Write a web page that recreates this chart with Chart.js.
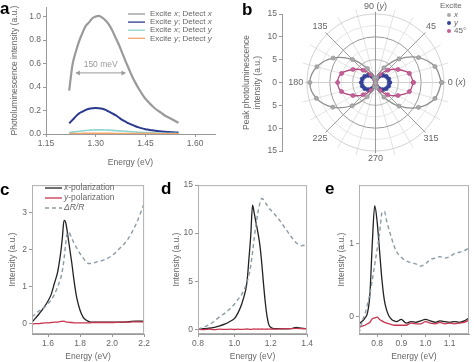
<!DOCTYPE html>
<html>
<head>
<meta charset="utf-8">
<script src="https://cdn.jsdelivr.net/npm/chart.js@4.4.0/dist/chart.umd.min.js"></script>
<style>
  body { margin: 0; background: #fff; width: 474px; height: 362px; position: relative; overflow: hidden; font-family: "Liberation Sans", Arial, sans-serif; }
  .panel { position: absolute; }
  .tag { position: absolute; font-weight: bold; font-size: 17px; line-height: 1; color: #000; }
</style>
</head>
<body>
<div class="panel" style="left:0;top:0;width:222px;height:168px"><canvas id="chart-a"></canvas></div>
<div class="panel" style="left:240px;top:0;width:234px;height:165px"><canvas id="chart-b"></canvas></div>
<div class="panel" style="left:0;top:178px;width:152px;height:184px"><canvas id="chart-c"></canvas></div>
<div class="panel" style="left:160px;top:178px;width:155px;height:184px"><canvas id="chart-d"></canvas></div>
<div class="panel" style="left:318px;top:178px;width:156px;height:184px"><canvas id="chart-e"></canvas></div>
<div class="tag" style="left:0;top:0">a</div>
<div class="tag" style="left:242px;top:1px">b</div>
<div class="tag" style="left:0;top:181px">c</div>
<div class="tag" style="left:161px;top:180px">d</div>
<div class="tag" style="left:325px;top:180px">e</div>
<script>
// ---- panel a: PL spectra ----
const aEnergy = [1.22, 1.23, 1.24, 1.25, 1.26, 1.27, 1.28, 1.29, 1.30, 1.31, 1.32, 1.33, 1.34, 1.35, 1.36, 1.37, 1.38,
  1.39, 1.40, 1.41, 1.42, 1.43, 1.44, 1.45, 1.46, 1.47, 1.48, 1.49, 1.50, 1.51, 1.52, 1.53, 1.54, 1.55];
const aExXDetX = [0.37, 0.59, 0.70, 0.79, 0.86, 0.92, 0.95, 0.985, 1.00, 1.005, 0.99, 0.965, 0.93, 0.88, 0.82, 0.76, 0.69,
  0.62, 0.555, 0.49, 0.435, 0.385, 0.34, 0.30, 0.27, 0.24, 0.215, 0.195, 0.175, 0.155, 0.14, 0.125, 0.11, 0.095];
const aExYDetX = [0.09, 0.12, 0.15, 0.175, 0.19, 0.205, 0.215, 0.22, 0.222, 0.22, 0.215, 0.205, 0.19, 0.175, 0.16, 0.14, 0.12,
  0.105, 0.09, 0.077, 0.066, 0.056, 0.048, 0.041, 0.036, 0.031, 0.027, 0.024, 0.021, 0.019, 0.017, 0.015, 0.013, 0.012];
const aExXDetY = [0.012, 0.016, 0.02, 0.024, 0.027, 0.03, 0.032, 0.034, 0.035, 0.035, 0.035, 0.034, 0.033, 0.031, 0.029, 0.027, 0.025,
  0.023, 0.021, 0.019, 0.017, 0.015, 0.014, 0.012, 0.011, 0.01, 0.009, 0.008, 0.007, 0.006, 0.006, 0.005, 0.005, 0.004];
const aExYDetY = [0.003, 0.004, 0.004, 0.004, 0.005, 0.005, 0.005, 0.005, 0.005, 0.005, 0.005, 0.005, 0.005, 0.005, 0.004, 0.004, 0.004,
  0.004, 0.004, 0.004, 0.003, 0.003, 0.003, 0.003, 0.003, 0.003, 0.003, 0.002, 0.002, 0.002, 0.002, 0.002, 0.002, 0.002];
const aLegend = ['Excite *x*; Detect *x*', 'Excite *y*; Detect *x*', 'Excite *x*; Detect *y*', 'Excite *y*; Detect *y*'];
const aTicksX = [1.15, 1.30, 1.45, 1.60];
const aTicksY = [0, 0.2, 0.4, 0.6, 0.8, 1.0];

// ---- panel b: polar plot of peak PL ----
const bAngle = [0, 15, 30, 45, 60, 75, 90, 105, 120, 135, 150, 165, 180, 195, 210, 225, 240, 255, 270, 285, 300, 315, 330, 345, 360];
const bExciteX = [14.5, 13.5, 10.9, 7.3, 3.7, 1.1, 0.2, 1.0, 3.5, 7.1, 10.7, 13.3, 14.4, 13.4, 10.8, 7.2, 3.6, 1.0, 0.2, 1.1, 3.7, 7.3, 10.9, 13.5, 14.5];
const bExciteY = [3.1, 3.0, 2.7, 2.2, 1.55, 0.8, 0.1, 0.8, 1.55, 2.2, 2.7, 3.0, 3.1, 3.0, 2.7, 2.2, 1.55, 0.8, 0.1, 0.8, 1.55, 2.2, 2.7, 3.0, 3.1];
const bExcite45 = [8.3, 7.7, 5.7, 3.8, 2.0, 0.7, 0.2, 0.7, 2.0, 3.8, 5.7, 7.7, 8.3, 7.7, 5.7, 3.8, 2.0, 0.7, 0.2, 0.7, 2.0, 3.8, 5.7, 7.7, 8.3];
const bLegend = ['*x*', '*y*', '45°'];
const bTicksY = [-15, -10, -5, 0, 5, 10, 15];
const bRings = [2.5, 5, 7.5, 10, 12.5, 15];
const bAngleLabels = ['0 (*x*)', '45', '90 (*y*)', '135', '180', '225', '270', '315'];

// ---- panel c ----
const cEnergy = [1.50, 1.52, 1.54, 1.56, 1.58, 1.60, 1.62, 1.64, 1.66, 1.67, 1.68, 1.69, 1.70, 1.71, 1.72, 1.73, 1.74,
  1.75, 1.76, 1.77, 1.78, 1.80, 1.82, 1.84, 1.86, 1.88, 1.90, 1.95, 2.00, 2.05, 2.10, 2.15, 2.20];
const cXPol = [0.05, 0.15, 0.25, 0.36, 0.48, 0.62, 0.8, 1.1, 1.4, 1.65, 1.95, 2.35, 2.8, 2.75, 2.5, 2.2, 1.9,
  1.6, 1.25, 0.95, 0.7, 0.37, 0.18, 0.1, 0.06, 0.05, 0.05, 0.05, 0.05, 0.05, 0.06, 0.08, 0.07];
const cYPol = [0.0, 0.01, 0.01, 0.02, 0.03, 0.03, 0.04, 0.05, 0.05, 0.06, 0.07, 0.07, 0.08, 0.06, 0.05, 0.05, 0.04,
  0.04, 0.03, 0.03, 0.03, 0.03, 0.03, 0.03, 0.03, 0.04, 0.04, 0.04, 0.04, 0.05, 0.05, 0.06, 0.06];
const cDeltaR = [0.19, 0.27, 0.34, 0.4, 0.46, 0.55, 0.65, 0.8, 1.0, 1.12, 1.25, 1.45, 1.75, 2.15, 2.45, 2.48, 2.4,
  2.3, 2.2, 2.12, 2.05, 1.9, 1.78, 1.67, 1.63, 1.64, 1.67, 1.73, 1.85, 2.05, 2.3, 2.7, 3.25];
const cLegend = ['*x*-polarization', '*y*-polarization', '*ΔR/R*'];
const cTicksX = [1.6, 1.8, 2.0, 2.2];
const cTicksY = [0, 1, 2, 3];

// ---- panel d ----
const dEnergy = [0.80, 0.83, 0.86, 0.89, 0.92, 0.95, 0.98, 1.00, 1.02, 1.04, 1.06, 1.07, 1.08, 1.09, 1.10, 1.11, 1.12,
  1.13, 1.14, 1.15, 1.16, 1.17, 1.18, 1.19, 1.20, 1.22, 1.25, 1.28, 1.31, 1.34, 1.37, 1.40];
const dXPol = [0.0, 0.05, 0.1, 0.2, 0.35, 0.55, 0.85, 1.1, 1.7, 2.6, 3.9, 5.0, 7.3, 9.7, 12.9, 12.0, 11.0,
  10.0, 8.8, 7.0, 4.8, 2.8, 1.3, 0.45, 0.2, 0.05, 0.05, 0.03, 0.05, 0.2, 0.1, 0.05];
const dYPol = [0.0, -0.05, 0.0, -0.05, 0.0, -0.02, 0.0, -0.03, 0.0, -0.02, 0.0, 0.02, 0.0, -0.02, 0.0, 0.02, 0.0,
  0.02, 0.0, 0.02, 0.0, 0.0, 0.02, 0.0, 0.02, 0.0, 0.03, 0.05, 0.05, 0.08, 0.05, 0.05];
const dDeltaR = [0.0, 0.2, 0.45, 0.85, 1.3, 1.7, 2.2, 2.6, 3.1, 3.6, 4.4, 4.9, 5.6, 6.6, 8.0, 9.6, 11.0,
  12.2, 13.1, 13.6, 13.5, 13.2, 12.9, 12.6, 12.4, 12.0, 11.3, 10.5, 9.7, 9.0, 8.7, 8.8];
const dTicksX = [0.8, 1.0, 1.2, 1.4];
const dTicksY = [0, 5, 10, 15];

// ---- panel e ----
const eEnergy = [0.725, 0.74, 0.75, 0.76, 0.77, 0.78, 0.79, 0.80, 0.81, 0.82, 0.83, 0.84, 0.85, 0.86, 0.87, 0.88,
  0.90, 0.92, 0.94, 0.96, 0.98, 1.00, 1.02, 1.04, 1.06, 1.08, 1.10, 1.12, 1.14, 1.16, 1.18];
const eXPol = [-0.1, -0.06, -0.02, 0.05, 0.3, 1.0, 1.52, 1.3, 0.9, 0.5, 0.22, 0.08, 0.0, -0.04, -0.06, -0.07,
  -0.04, -0.09, -0.07, -0.08, -0.06, -0.04, -0.06, -0.08, -0.06, -0.07, -0.08, -0.07, -0.08, -0.06, -0.02];
const eYPol = [-0.15, -0.13, -0.12, -0.1, -0.08, -0.03, -0.02, -0.01, -0.04, -0.06, -0.08, -0.09, -0.1, -0.11, -0.12, -0.12,
  -0.12, -0.12, -0.09, -0.1, -0.1, -0.07, -0.09, -0.1, -0.08, -0.1, -0.09, -0.1, -0.09, -0.08, -0.05];
const eDeltaR = [-0.23, -0.05, 0.04, 0.17, 0.31, 0.5, 0.71, 0.92, 1.14, 1.42, 1.44, 1.3, 1.18, 1.07, 0.97, 0.89,
  0.81, 0.76, 0.74, 0.72, 0.69, 0.72, 0.78, 0.8, 0.82, 0.8, 0.82, 0.86, 0.88, 0.9, 0.94];
const eTicksX = [0.8, 0.9, 1.0, 1.1];
const eTicksY = [0, 1];

const FONT = "'Liberation Sans', Arial, sans-serif";
const TXT = '#666';
Chart.defaults.font.family = FONT;
Chart.defaults.font.size = 8.5;
Chart.defaults.color = TXT;
Chart.defaults.animation = false;
Chart.defaults.plugins.legend.display = false;
Chart.defaults.plugins.tooltip.enabled = false;

const pts = (xs, ys) => xs.map((x, i) => ({ x, y: ys[i] }));

function curve(xs, ys, color, width, dash) {
  return {
    data: pts(xs, ys), showLine: true, borderColor: color, borderWidth: width,
    borderDash: dash || [], pointRadius: 0, cubicInterpolationMode: 'monotone', fill: false
  };
}

// text with *italic* parts
function richText(ctx, x, y, text, size, color, align) {
  const parts = text.split('*');
  const fontOf = i => (i % 2 ? 'italic ' : '') + size + 'px ' + FONT;
  let w = 0;
  parts.forEach((p, i) => { ctx.font = fontOf(i); w += ctx.measureText(p).width; });
  if (align === 'center') x -= w / 2;
  if (align === 'right') x -= w;
  ctx.fillStyle = color;
  ctx.textBaseline = 'middle';
  ctx.textAlign = 'left';
  parts.forEach((p, i) => {
    ctx.font = fontOf(i);
    ctx.fillText(p, x, y);
    x += ctx.measureText(p).width;
  });
}

function legendLine(ctx, x0, x1, y, color, dash) {
  ctx.save();
  ctx.strokeStyle = color;
  ctx.lineWidth = 1.3;
  ctx.setLineDash(dash || []);
  ctx.beginPath(); ctx.moveTo(x0, y); ctx.lineTo(x1, y); ctx.stroke();
  ctx.restore();
}

function axis(min, max, ticks, size, title, titlePad, fmt) {
  return {
    type: 'linear', min, max,
    afterBuildTicks: s => { s.ticks = ticks.map(v => ({ value: v })); },
    afterFit: s => { if (s.isHorizontal()) s.height = size; else s.width = size; },
    grid: { display: true, drawOnChartArea: false, drawTicks: true, tickLength: 3, color: '#999' },
    border: { display: true, color: '#999' },
    ticks: { padding: 2, color: TXT, callback: fmt || (v => String(v)) },
    title: { display: !!title, text: title, color: TXT, font: { size: 8.5 }, padding: titlePad }
  };
}

const frame = {
  id: 'frame',
  afterDatasetsDraw(chart) {
    const { ctx, chartArea: a } = chart;
    ctx.save();
    ctx.strokeStyle = '#b0b0b0';
    ctx.lineWidth = 1;
    ctx.strokeRect(a.left + 0.5, a.top + 0.5, a.right - a.left - 1, a.bottom - a.top - 1);
    ctx.restore();
  }
};

// ---------- a ----------
const aColors = ['#9a9a9a', '#2b3a8e', '#8fd5cf', '#f3a56e'];
new Chart(document.getElementById('chart-a'), {
  type: 'scatter',
  data: {
    datasets: [
      curve(aEnergy, aExYDetY, aColors[3], 1.6),
      curve(aEnergy, aExXDetY, aColors[2], 1.6),
      curve(aEnergy, aExYDetX, aColors[1], 2),
      curve(aEnergy, aExXDetX, aColors[0], 2.2)
    ]
  },
  options: {
    responsive: true, maintainAspectRatio: false,
    layout: { padding: { top: 5, right: 7, left: 0, bottom: 0 } },
    scales: {
      x: axis(1.15, 1.66, aTicksX, 34, 'Energy (eV)', { top: 4, bottom: 0 }, v => v.toFixed(2)),
      y: axis(0, 1.08, aTicksY, 46, 'Photoluminescence intensity (a.u.)', { top: 10, bottom: 0 }, v => v.toFixed(1))
    }
  },
  plugins: [{
    id: 'aDecor',
    afterDraw(chart) {
      const ctx = chart.ctx;
      aLegend.forEach((t, i) => {
        const y = 14 + i * 8.1;
        legendLine(ctx, 128, 145, y, aColors[i]);
        richText(ctx, 150, y, t, 8, TXT);
      });
      // 150 meV width marker
      const x = chart.scales.x, y = chart.scales.y;
      const y0 = y.getPixelForValue(0.52);
      ctx.save();
      ctx.strokeStyle = '#999'; ctx.fillStyle = '#999'; ctx.lineWidth = 1;
      const x0 = x.getPixelForValue(1.24), x1 = x.getPixelForValue(1.39);
      ctx.beginPath(); ctx.moveTo(x0, y0); ctx.lineTo(x1, y0); ctx.stroke();
      [[x0, 1], [x1, -1]].forEach(([px, d]) => {
        ctx.beginPath(); ctx.moveTo(px, y0); ctx.lineTo(px + 4 * d, y0 - 2.5); ctx.lineTo(px + 4 * d, y0 + 2.5); ctx.closePath(); ctx.fill();
      });
      ctx.restore();
      richText(ctx, (x0 + x1) / 2, y0 - 8, '150 meV', 8.5, '#999', 'center');
    }
  }]
});

// ---------- b ----------
const polar = (angles, radii) => angles.map((a, i) => ({
  x: radii[i] * Math.cos(a * Math.PI / 180),
  y: radii[i] * Math.sin(a * Math.PI / 180)
}));
const bColors = ['#8e8e8e', '#2b3a8e', '#b3487f'];
const bPointColors = ['#a9a9a9', '#34449a', '#c4609a'];
function polarSet(radii, i) {
  return {
    data: polar(bAngle, radii), showLine: true, tension: 0.35,
    borderColor: bColors[i], borderWidth: 1.3,
    pointRadius: 2.1, pointBackgroundColor: bPointColors[i], pointBorderColor: bColors[i], pointBorderWidth: 0.6
  };
}
new Chart(document.getElementById('chart-b'), {
  type: 'scatter',
  data: { datasets: [polarSet(bExciteX, 0), polarSet(bExcite45, 2), polarSet(bExciteY, 1)] },
  options: {
    responsive: true, maintainAspectRatio: false,
    layout: { padding: { top: 14, right: 4, left: 0, bottom: 14 } },
    scales: {
      x: { type: 'linear', min: -20.5, max: 20.6, display: false },
      y: axis(-15, 15, bTicksY, 42, ['Peak photoluminescence', 'intensity (a.u.)'], { top: 2, bottom: 0 }, v => String(Math.abs(v)))
    }
  },
  plugins: [{
    id: 'polarGrid',
    beforeDatasetsDraw(chart) {
      const { ctx, scales: { x, y } } = chart;
      const cx = x.getPixelForValue(0), cy = y.getPixelForValue(0);
      const k = cy - y.getPixelForValue(1);
      ctx.save();
      ctx.lineWidth = 1;
      for (let a = 0; a < 360; a += 15) {
        if (a % 45 === 0) continue;
        const c = Math.cos(a * Math.PI / 180), s = Math.sin(a * Math.PI / 180);
        ctx.strokeStyle = '#e2e2e2';
        ctx.beginPath(); ctx.moveTo(cx + 2.5 * k * c, cy - 2.5 * k * s); ctx.lineTo(cx + 16.5 * k * c, cy - 16.5 * k * s); ctx.stroke();
      }
      bRings.forEach(r => {
        ctx.strokeStyle = r === 10 ? '#9a9a9a' : (r === 5 ? '#b8b8b8' : (r === 15 ? '#d2d2d2' : '#e6e6e6'));
        ctx.beginPath(); ctx.arc(cx, cy, r * k, 0, Math.PI * 2); ctx.stroke();
      });
      for (let a = 0; a < 360; a += 45) {
        const c = Math.cos(a * Math.PI / 180), s = Math.sin(a * Math.PI / 180);
        ctx.strokeStyle = a % 180 === 0 ? '#cfcfcf' : '#9a9a9a';
        ctx.beginPath(); ctx.moveTo(cx, cy); ctx.lineTo(cx + 15.5 * k * c, cy - 15.5 * k * s); ctx.stroke();
      }
      ctx.restore();
    },
    afterDraw(chart) {
      const { ctx, scales: { x, y } } = chart;
      const cx = x.getPixelForValue(0), cy = y.getPixelForValue(0);
      const k = cy - y.getPixelForValue(1);
      bAngleLabels.forEach((t, i) => {
        const a = i * 45 * Math.PI / 180;
        if (i === 0) richText(ctx, cx + 15.8 * k, cy, t, 9, TXT, 'left');
        else if (i === 4) richText(ctx, cx - 15.8 * k, cy, t, 9, TXT, 'right');
        else {
          const r = i % 2 ? 17.2 : 16.7;
          richText(ctx, cx + r * k * Math.cos(a), cy - r * k * Math.sin(a), t, 9, TXT, 'center');
        }
      });
      richText(ctx, 200, 6, 'Excite', 8, TXT);
      bLegend.forEach((t, i) => {
        const yy = 15 + i * 8;
        ctx.beginPath(); ctx.arc(209, yy, 2, 0, Math.PI * 2);
        ctx.fillStyle = bPointColors[i]; ctx.fill();
        richText(ctx, 214, yy, t, 8, TXT);
      });
    }
  }]
});

// ---------- c, d, e ----------
const black = '#222', red = '#c7354f', dashCol = '#8a9ba6';
function spectrum(id, xs, xPol, yPol, dR, xr, yr, tx, ty, box, titlePad, legend) {
  new Chart(document.getElementById(id), {
    type: 'scatter',
    data: {
      datasets: [
        curve(xs, dR, dashCol, 1.4, [4, 3]),
        curve(xs, yPol, red, 1.3),
        curve(xs, xPol, black, 1.3)
      ]
    },
    options: {
      responsive: true, maintainAspectRatio: false,
      layout: { padding: { top: box.top, right: box.right, left: 0, bottom: 0 } },
      scales: {
        x: axis(xr[0], xr[1], tx, 28, 'Energy (eV)', { top: 3, bottom: 0 }, v => v.toFixed(1)),
        y: axis(yr[0], yr[1], ty, box.left, 'Intensity (a.u.)', { top: titlePad, bottom: 0 })
      }
    },
    plugins: [frame, {
      id: 'legend-' + id,
      afterDraw(chart) {
        if (!legend) return;
        const ctx = chart.ctx;
        const cols = [black, red, dashCol];
        legend.forEach((t, i) => {
          const yy = 10 + i * 10;
          legendLine(ctx, 45, 62, yy, cols[i], i === 2 ? [4, 3] : []);
          richText(ctx, 64, yy, t, 8.5, TXT);
        });
      }
    }]
  });
}
spectrum('chart-c', cEnergy, cXPol, cYPol, cDeltaR, [1.5, 2.2], [-0.27, 3.75], cTicksX, cTicksY,
  { left: 32, top: 4, right: 7 }, 8, cLegend);
spectrum('chart-d', dEnergy, dXPol, dYPol, dDeltaR, [0.8, 1.4], [-0.5, 15], dTicksX, dTicksY,
  { left: 38, top: 4, right: 5 }, 12, null);
spectrum('chart-e', eEnergy, eXPol, eYPol, eDeltaR, [0.725, 1.18], [-0.24, 1.8], eTicksX, eTicksY,
  { left: 41, top: 5, right: 5 }, 19, null);
</script>
</body>
</html>
